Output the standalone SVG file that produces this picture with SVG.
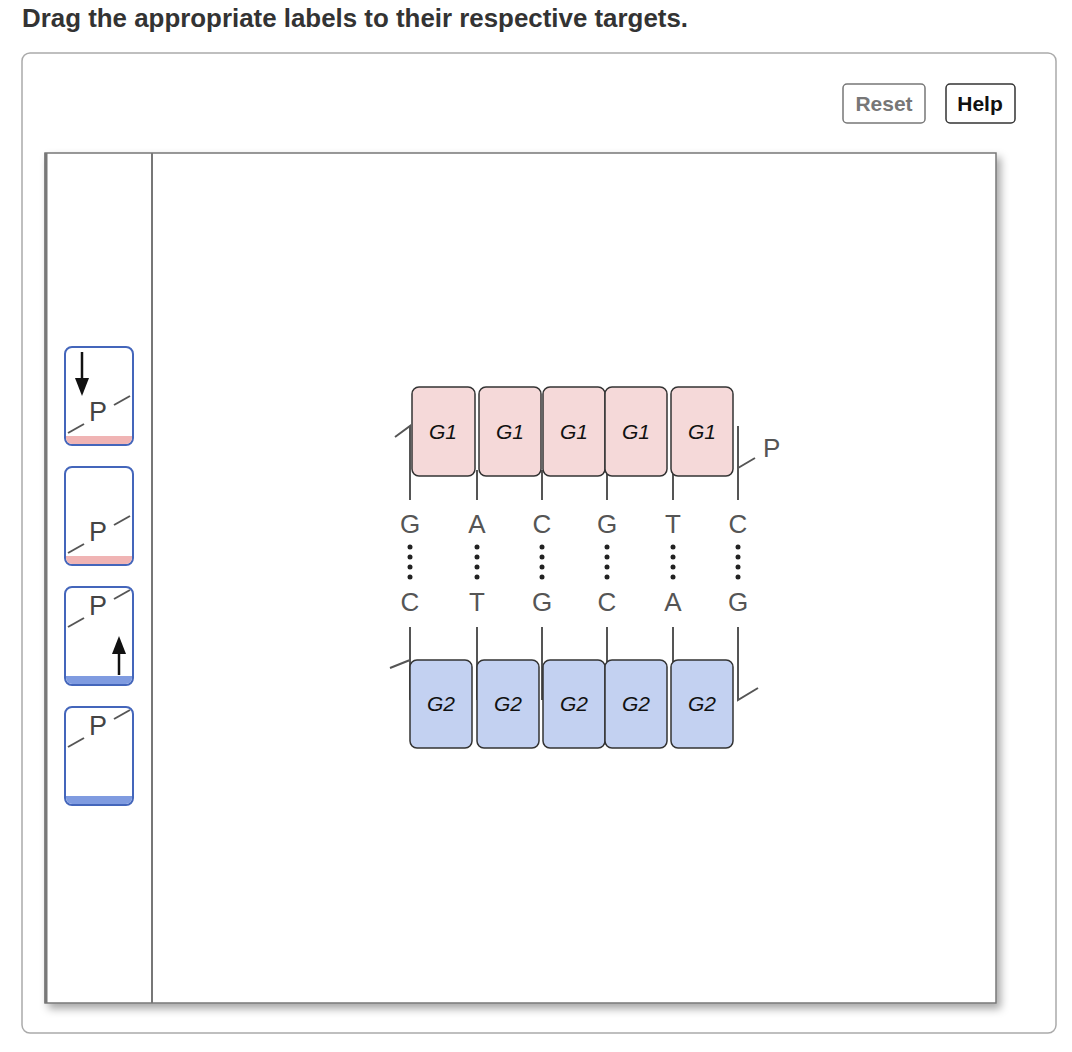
<svg xmlns="http://www.w3.org/2000/svg" width="1072" height="1052" viewBox="0 0 1072 1052">
<defs>
<style>
text{font-family:"Liberation Sans",Arial,sans-serif}
.g1{fill:#f5d9d9;stroke:#333;stroke-width:1.5}
.g2{fill:#c3d1f1;stroke:#333;stroke-width:1.5}
.lbl{font-size:21px;font-style:italic;text-anchor:middle;fill:#111}
.base{font-size:26px;text-anchor:middle;fill:#555}
.bb{stroke:#555;stroke-width:2;fill:none}
.tp{font-size:27px;fill:#444}
.tile{fill:#fff;stroke:#4466bb;stroke-width:2}
.dot{fill:#222}
</style>
<filter id="sh" x="-5%" y="-5%" width="115%" height="115%"><feDropShadow dx="4" dy="5" stdDeviation="4" flood-color="#000" flood-opacity="0.35"/></filter>
<marker id="ah" markerWidth="18" markerHeight="14" refX="2" refY="7" orient="auto" markerUnits="userSpaceOnUse"><path d="M0,0 L18,7 L0,14 z" fill="#111"/></marker>
</defs>
<rect width="1072" height="1052" fill="#fff"/>
<text x="22" y="27" font-size="25" font-weight="bold" fill="#333" textLength="666" lengthAdjust="spacingAndGlyphs">Drag the appropriate labels to their respective targets.</text>
<rect x="22" y="53" width="1034" height="980" rx="8" fill="#fff" stroke="#aaa" stroke-width="1.5"/>
<g id="reset"><rect x="843" y="84" width="82" height="39" rx="4" fill="#fff" stroke="#777" stroke-width="1.5"/><text x="884" y="111" font-size="21" font-weight="bold" text-anchor="middle" fill="#777">Reset</text></g>
<g id="help"><rect x="946" y="84" width="69" height="39" rx="4" fill="#fff" stroke="#333" stroke-width="1.5"/><text x="980" y="111" font-size="21" font-weight="bold" text-anchor="middle" fill="#111">Help</text></g>
<rect x="45" y="153" width="951" height="850" fill="#fff" stroke="#777" stroke-width="1.5" filter="url(#sh)"/>
<line x1="152" y1="153" x2="152" y2="1003" stroke="#777" stroke-width="2"/>
<line x1="46" y1="153" x2="46" y2="1003" stroke="#777" stroke-width="3"/>

<g id="tile1"><rect class="tile" x="65" y="347" width="68" height="98" rx="7"/><path d="M66,436 H132 V438 a6,6 0 0 1 -6,6 H72 a6,6 0 0 1 -6,-6z" fill="#f0b4b4"/>
<line x1="82" y1="352" x2="82" y2="380" stroke="#111" stroke-width="2.5" marker-end="url(#ah)"/>
<line class="bb" x1="68" y1="433" x2="84" y2="424"/><line class="bb" x1="114" y1="405" x2="130" y2="396"/><text class="tp" x="89" y="421">P</text></g>
<g id="tile2"><rect class="tile" x="65" y="467" width="68" height="98" rx="7"/><path d="M66,556 H132 V558 a6,6 0 0 1 -6,6 H72 a6,6 0 0 1 -6,-6z" fill="#f0b4b4"/>
<line class="bb" x1="68" y1="553" x2="84" y2="544"/><line class="bb" x1="114" y1="525" x2="130" y2="516"/><text class="tp" x="89" y="541">P</text></g>
<g id="tile3"><rect class="tile" x="65" y="587" width="68" height="98" rx="7"/><path d="M66,676 H132 V678 a6,6 0 0 1 -6,6 H72 a6,6 0 0 1 -6,-6z" fill="#7f9be0"/>
<line x1="119" y1="675" x2="119" y2="652" stroke="#111" stroke-width="2.5" marker-end="url(#ah)"/>
<line class="bb" x1="68" y1="627" x2="84" y2="618"/><line class="bb" x1="114" y1="599" x2="130" y2="590"/><text class="tp" x="89" y="615">P</text></g>
<g id="tile4"><rect class="tile" x="65" y="707" width="68" height="98" rx="7"/><path d="M66,796 H132 V798 a6,6 0 0 1 -6,6 H72 a6,6 0 0 1 -6,-6z" fill="#7f9be0"/>
<line class="bb" x1="68" y1="747" x2="84" y2="738"/><line class="bb" x1="114" y1="719" x2="130" y2="710"/><text class="tp" x="89" y="735">P</text></g>

<g id="connectors">
<path class="bb" d="M395,437 L410,426 V500"/>
<path class="bb" d="M477,470 V500 M542,470 V500 M607,425 V500 M673,425 V500"/>
<path class="bb" d="M738,426 V500 M738,468 L755,458"/>
<path class="bb" d="M390,668 L410,660 M410,627 V700 M477,627 V700 M542,627 V700 M607,627 V700 M673,627 V700"/>
<path class="bb" d="M738,627 V700 L758,688"/>
</g>
<text x="763" y="457" font-size="26" fill="#555">P</text>
<g id="bases">
<text class="base" x="410" y="533">G</text><text class="base" x="477" y="533">A</text><text class="base" x="542" y="533">C</text><text class="base" x="607" y="533">G</text><text class="base" x="673" y="533">T</text><text class="base" x="738" y="533">C</text>
<text class="base" x="410" y="611">C</text><text class="base" x="477" y="611">T</text><text class="base" x="542" y="611">G</text><text class="base" x="607" y="611">C</text><text class="base" x="673" y="611">A</text><text class="base" x="738" y="611">G</text>
<g class="dot">
<circle cx="410" cy="547" r="2.5"/><circle cx="410" cy="557" r="2.5"/><circle cx="410" cy="567" r="2.5"/><circle cx="410" cy="577" r="2.5"/>
<circle cx="477" cy="547" r="2.5"/><circle cx="477" cy="557" r="2.5"/><circle cx="477" cy="567" r="2.5"/><circle cx="477" cy="577" r="2.5"/>
<circle cx="542" cy="547" r="2.5"/><circle cx="542" cy="557" r="2.5"/><circle cx="542" cy="567" r="2.5"/><circle cx="542" cy="577" r="2.5"/>
<circle cx="607" cy="547" r="2.5"/><circle cx="607" cy="557" r="2.5"/><circle cx="607" cy="567" r="2.5"/><circle cx="607" cy="577" r="2.5"/>
<circle cx="673" cy="547" r="2.5"/><circle cx="673" cy="557" r="2.5"/><circle cx="673" cy="567" r="2.5"/><circle cx="673" cy="577" r="2.5"/>
<circle cx="738" cy="547" r="2.5"/><circle cx="738" cy="557" r="2.5"/><circle cx="738" cy="567" r="2.5"/><circle cx="738" cy="577" r="2.5"/>
</g></g>

<g id="g1a"><rect class="g1" x="412" y="387" width="63" height="89" rx="7"/><text class="lbl" x="443" y="439">G1</text></g>
<g id="g1b"><rect class="g1" x="479" y="387" width="62" height="89" rx="7"/><text class="lbl" x="510" y="439">G1</text></g>
<g id="g1c"><rect class="g1" x="543" y="387" width="62" height="89" rx="7"/><text class="lbl" x="574" y="439">G1</text></g>
<g id="g1d"><rect class="g1" x="605" y="387" width="62" height="89" rx="7"/><text class="lbl" x="636" y="439">G1</text></g>
<g id="g1e"><rect class="g1" x="671" y="387" width="62" height="89" rx="7"/><text class="lbl" x="702" y="439">G1</text></g>
<g id="g2a"><rect class="g2" x="410" y="660" width="62" height="88" rx="7"/><text class="lbl" x="441" y="711">G2</text></g>
<g id="g2b"><rect class="g2" x="477" y="660" width="62" height="88" rx="7"/><text class="lbl" x="508" y="711">G2</text></g>
<g id="g2c"><rect class="g2" x="543" y="660" width="62" height="88" rx="7"/><text class="lbl" x="574" y="711">G2</text></g>
<g id="g2d"><rect class="g2" x="605" y="660" width="62" height="88" rx="7"/><text class="lbl" x="636" y="711">G2</text></g>
<g id="g2e"><rect class="g2" x="671" y="660" width="62" height="88" rx="7"/><text class="lbl" x="702" y="711">G2</text></g>
</svg>
